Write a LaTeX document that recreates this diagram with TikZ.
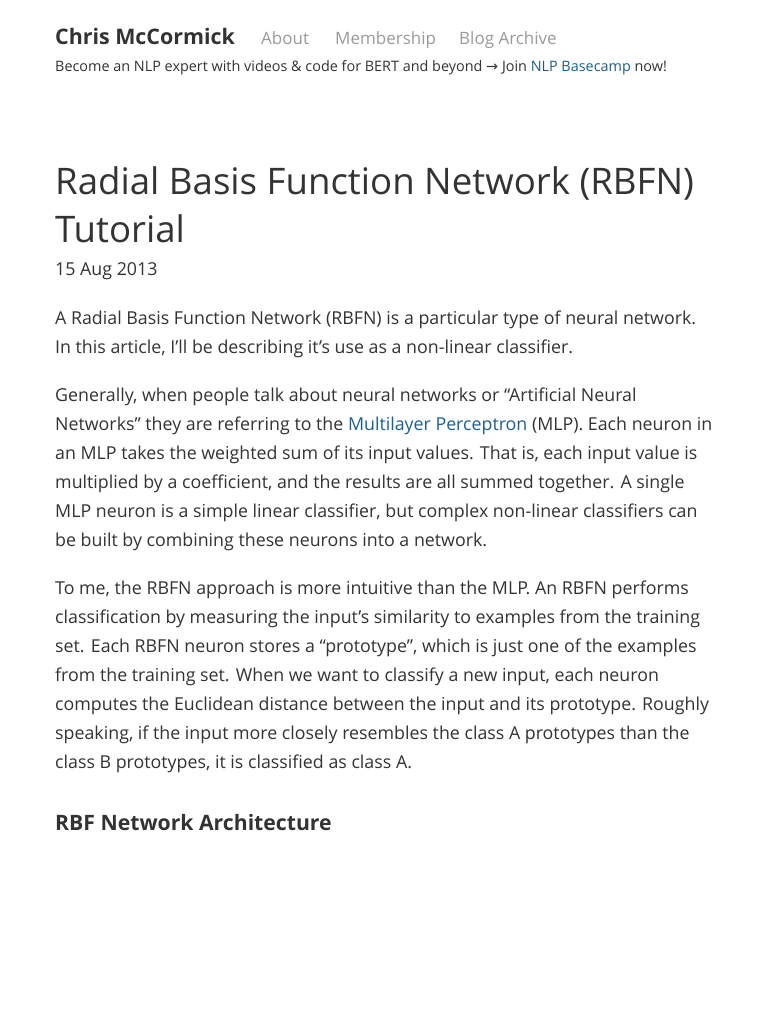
\documentclass[tikz,border=0pt]{standalone}
\usepackage{fontspec}
\setmainfont{Open Sans}
\newfontfamily\symf{DejaVu Sans}
\definecolor{txt}{HTML}{333333}
\definecolor{nav}{HTML}{9A9A9A}
\definecolor{lnk}{HTML}{1F5F8B}
\newcommand{\lk}[1]{\textcolor{lnk}{#1}}
\begin{document}
\begin{tikzpicture}[x=1pt,y=-1pt,
  body/.style={anchor=base west,inner sep=0,text=txt,font=\fontsize{17.8}{20}\selectfont},
  navi/.style={anchor=base west,inner sep=0,text=nav,font=\fontsize{17}{20}\selectfont}]
\useasboundingbox[fill=white] (0,0) rectangle (768,1024);
\node[anchor=base west,inner sep=0,text=txt,font=\fontsize{21.4}{26}\selectfont\bfseries] (brand) at (55,45) {Chris McCormick};
\node[navi] (about) at (261,45) {About};
\node[navi] (memb) at (335,45) {Membership};
\node[navi] (arch) at (459,45) {Blog Archive};
\node[anchor=base west,inner sep=0,text=txt,font=\fontsize{14.4}{16}\selectfont] (sub) at (55,72) {Become an NLP expert with videos \& code for BERT and beyond {\symf →} Join \lk{NLP Basecamp} now!};
\node[anchor=base west,inner sep=0,text=txt,font=\fontsize{36.6}{40}\selectfont] (t1) at (55,195) {Radial Basis Function Network (RBFN)};
\node[anchor=base west,inner sep=0,text=txt,font=\fontsize{36.6}{40}\selectfont] (t2) at (55,243) {Tutorial};
\node[body] (date) at (55,275) {15 Aug 2013};
\node[body] (a1) at (55,324) {A Radial Basis Function Network (RBFN) is a particular type of neural network.};
\node[body] (a2) at (55,353) {In this article, I’ll be describing it’s use as a non-linear classifier.};
\node[body] (b1) at (55,401) {Generally, when people talk about neural networks or “Artificial Neural};
\node[body] (b2) at (55,430) {Networks” they are referring to the \lk{Multilayer Perceptron} (MLP). Each neuron in};
\node[body] (b3) at (55,459) {an MLP takes the weighted sum of its input values. That is, each input value is};
\node[body] (b4) at (55,488) {multiplied by a coefficient, and the results are all summed together. A single};
\node[body] (b5) at (55,517) {MLP neuron is a simple linear classifier, but complex non-linear classifiers can};
\node[body] (b6) at (55,546) {be built by combining these neurons into a network.};
\node[body] (c1) at (55,594) {To me, the RBFN approach is more intuitive than the MLP. An RBFN performs};
\node[body] (c2) at (55,623) {classification by measuring the input’s similarity to examples from the training};
\node[body] (c3) at (55,652) {set. Each RBFN neuron stores a “prototype”, which is just one of the examples};
\node[body] (c4) at (55,681) {from the training set. When we want to classify a new input, each neuron};
\node[body] (c5) at (55,710) {computes the Euclidean distance between the input and its prototype. Roughly};
\node[body] (c6) at (55,739) {speaking, if the input more closely resembles the class A prototypes than the};
\node[body] (c7) at (55,768) {class B prototypes, it is classified as class A.};
\node[anchor=base west,inner sep=0,text=txt,font=\fontsize{21.2}{26}\selectfont\bfseries] (h) at (55,830) {RBF Network Architecture};
\end{tikzpicture}
\end{document}
